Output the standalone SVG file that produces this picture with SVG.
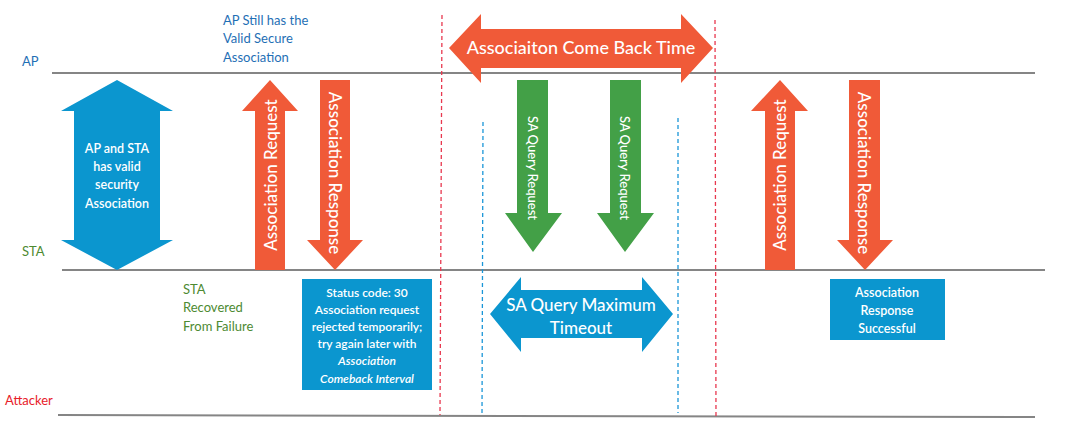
<svg xmlns="http://www.w3.org/2000/svg" width="1067" height="435" viewBox="0 0 1067 435">
<style>
.ln{stroke:#858585;stroke-width:2;fill:none}
.rd{stroke:#e8384f;stroke-width:1.3;stroke-dasharray:4 3;fill:none}
.bd{stroke:#1a96d8;stroke-width:1.3;stroke-dasharray:4 3;fill:none}
.blue{fill:#0b96cf}.red{fill:#f05a38}.green{fill:#43a047}
text{font-family:Lato,"Open Sans","Liberation Sans",sans-serif}
.w{fill:#fff;font-size:17px;text-anchor:middle;font-weight:500}
.wb{fill:#fff;font-size:12.5px;text-anchor:middle;font-weight:600}
.sq{font-size:13px}
</style>
<rect width="1067" height="435" fill="#fff"/>
<g id="lines">
<line class="ln" x1="52" y1="73" x2="1035" y2="73"/>
<line class="ln" x1="62" y1="270" x2="1045" y2="270"/>
<line class="ln" x1="58" y1="415" x2="1035" y2="417"/>
<line class="rd" x1="442" y1="15" x2="440" y2="415"/>
<line class="rd" x1="715" y1="20" x2="716" y2="418"/>
<line class="bd" x1="483" y1="122" x2="482" y2="415"/>
<line class="bd" x1="678" y1="118" x2="678" y2="413"/>
</g>
<g id="labels">
<text x="22" y="66" fill="#1f6fb5" font-size="13">AP</text>
<text x="22" y="256" fill="#4d8a32" font-size="13">STA</text>
<text x="5" y="405" fill="#e8202a" font-size="13">Attacker</text>
<text fill="#1f6fb5" font-size="13"><tspan x="223" y="25">AP Still has the</tspan><tspan x="223" y="43">Valid Secure</tspan><tspan x="223" y="62">Association</tspan></text>
<text fill="#4d8a32" font-size="13"><tspan x="183" y="294">STA</tspan><tspan x="183" y="312">Recovered</tspan><tspan x="183" y="331">From Failure</tspan></text>
</g>
<g id="blue-sa">
<polygon class="blue" points="117,80 173,111 160,111 160,240 173,240 117,270 61,240 74,240 74,111 61,111"/>
<text class="wb"><tspan x="117" y="153">AP and STA</tspan><tspan x="117" y="171">has valid</tspan><tspan x="117" y="189">security</tspan><tspan x="117" y="208">Association</tspan></text>
</g>
<g id="assoc-req-1">
<polygon class="red" points="270,80 298,111 285,111 285,270 255,270 255,111 242,111"/>
<text class="w" transform="translate(277,175) rotate(-90)">Association Request</text>
</g>
<g id="assoc-resp-1">
<polygon class="red" points="320,80 350,80 350,240 363,240 335,270 307,240 320,240"/>
<text class="w" transform="translate(329,173) rotate(90)">Association Response</text>
</g>
<g id="status-box">
<rect class="blue" x="302" y="279" width="130" height="111"/>
<text class="wb" style="font-size:12px"><tspan x="367" y="297">Status code: 30</tspan><tspan x="367" y="314">Association request</tspan><tspan x="367" y="331">rejected temporarily;</tspan><tspan x="367" y="348">try again later with</tspan><tspan x="367" y="365" font-style="italic">Association</tspan><tspan x="367" y="383" font-style="italic">Comeback Interval</tspan></text>
</g>
<g id="comeback">
<polygon class="red" points="449,48 481,14 481,29 681,29 681,14 713,48 681,83 681,68 481,68 481,83"/>
<text class="w" x="581" y="54" style="font-size:18px">Associaiton Come Back Time</text>
</g>
<g id="sa-q1">
<polygon class="green" points="517,80 548,80 548,213 562,213 533,252 505,213 517,213"/>
<text class="w sq" transform="translate(528,168) rotate(90)">SA Query Request</text>
</g>
<g id="sa-q2">
<polygon class="green" points="610,80 641,80 641,213 654,213 625,252 597,213 610,213"/>
<text class="w sq" transform="translate(620,168) rotate(90)">SA Query Request</text>
</g>
<g id="sa-timeout">
<polygon class="blue" points="490,314 521,277 521,290 642,290 642,277 673,314 642,352 642,338 521,338 521,352"/>
<text class="w"><tspan x="581" y="311">SA Query Maximum</tspan><tspan x="581" y="334">Timeout</tspan></text>
</g>
<g id="assoc-req-2">
<polygon class="red" points="780,80 808,111 795,111 795,270 765,270 765,111 751,111"/>
<text class="w" transform="translate(786,175) rotate(-90)">Association Request</text>
</g>
<g id="assoc-resp-2">
<polygon class="red" points="849,80 880,80 880,240 893,240 865,270 837,240 849,240"/>
<text class="w" transform="translate(858,173) rotate(90)">Association Response</text>
</g>
<g id="success-box">
<rect class="blue" x="830" y="279" width="115" height="61"/>
<text class="wb"><tspan x="887" y="297">Association</tspan><tspan x="887" y="315">Response</tspan><tspan x="887" y="333">Successful</tspan></text>
</g>
</svg>
